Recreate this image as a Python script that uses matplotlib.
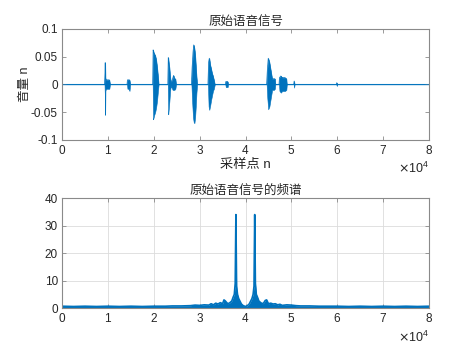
import matplotlib
matplotlib.use("Agg")
import matplotlib.pyplot as plt
from matplotlib.ticker import ScalarFormatter

plt.rcParams["font.family"] = ["Liberation Sans", "Noto Sans CJK SC", "DejaVu Sans"]
plt.rcParams["axes.unicode_minus"] = False

BLUE = "#0072BD"
BOX = "#8a8a8a"
TXT = "#262626"

# speech waveform envelope (sample index, upper, lower)
wave_n = [0, 9250, 9350, 9400, 9450, 9550, 9700, 10000, 10300, 10450,
          14150, 14250, 14500, 14700, 14850,
          19750, 19850, 19950, 20100, 20300, 20500, 20700, 20900, 21050,
          23050, 23150, 23250, 23400, 23550, 23700, 24000, 24100, 24300, 24500, 24700, 24850,
          28200, 28350, 28550, 28700, 28850, 29000, 29150, 29300, 29450,
          31800, 31950, 32100, 32300, 32500, 32700, 32900, 33100, 33300,
          35600, 35700, 36100, 36200,
          44600, 44750, 44950, 45200, 45400, 45600, 45800, 46000, 46200, 46400, 46500,
          47300, 47400, 47700, 48000, 48300, 48600, 48900, 49000,
          50500, 50600, 50700,
          59800, 59900, 60000, 80000]
wave_hi = [0, 0, 0.020, 0.039, 0.012, 0.008, 0.008, 0.008, 0.008, 0,
           0, 0.008, 0.008, 0.008, 0,
           0, 0.062, 0.058, 0.055, 0.052, 0.045, 0.032, 0.015, 0,
           0, 0.048, 0.040, 0.030, 0.015, 0.003, 0.008, 0.010, 0.016, 0.010, 0.010, 0,
           0, 0.030, 0.058, 0.071, 0.065, 0.055, 0.035, 0.015, 0,
           0, 0.040, 0.047, 0.035, 0.028, 0.020, 0.015, 0.008, 0,
           0, 0.005, 0.005, 0,
           0, 0.025, 0.047, 0.040, 0.030, 0.020, 0.010, 0.010, 0.010, 0.010, 0,
           0, 0.012, 0.015, 0.012, 0.012, 0.012, 0.010, 0,
           0, 0.006, 0,
           0, 0.003, 0, 0]
wave_lo = [0, 0, -0.030, -0.055, -0.012, -0.008, -0.008, -0.008, -0.008, 0,
           0, -0.008, -0.008, -0.012, 0,
           0, -0.063, -0.060, -0.055, -0.050, -0.042, -0.030, -0.012, 0,
           0, -0.054, -0.045, -0.030, -0.012, -0.003, -0.008, -0.010, -0.010, -0.010, -0.008, 0,
           0, -0.030, -0.060, -0.068, -0.070, -0.060, -0.040, -0.015, 0,
           0, -0.040, -0.046, -0.038, -0.028, -0.020, -0.012, -0.008, 0,
           0, -0.005, -0.005, 0,
           0, -0.025, -0.045, -0.040, -0.030, -0.020, -0.010, -0.010, -0.010, -0.008, 0,
           0, -0.012, -0.015, -0.012, -0.012, -0.012, -0.010, 0,
           0, -0.006, 0,
           0, -0.003, 0, 0]

# magnitude spectrum band (frequency bin, upper, lower)
spec_f = [0, 2500, 5000, 7500, 10000, 12500, 15000, 17500, 20000, 22500, 24000,
          26000, 28000, 29000, 30000, 31000, 32000, 32500, 33000, 33500, 34000,
          34500, 35000, 35300, 35600, 35900, 36200, 36600, 37000, 37300, 37550,
          37750, 37900, 38050, 38250, 38500, 38800, 39100, 39500, 40000,
          40400, 40800, 41100, 41400, 41650, 41850, 42000, 42150, 42350, 42600,
          42900, 43300, 43700, 44000, 44300, 44600, 45000, 45500, 46000, 46500,
          47000, 47500, 48000, 49000, 50000, 51000, 52000, 54000, 56000, 58000,
          60000, 62500, 65000, 67500, 70000, 72500, 75000, 77500, 80000]
spec_hi = [0.7, 0.6, 0.7, 0.6, 0.7, 0.6, 0.7, 0.6, 0.7, 0.7, 0.8,
           0.8, 0.9, 1.1, 1.0, 1.2, 1.1, 1.6, 1.2, 1.8, 1.5,
           2.0, 1.6, 3.0, 2.6, 2.0, 1.6, 2.0, 2.6, 4.0, 5.0,
           9.0, 34.0, 8.0, 5.0, 3.5, 2.5, 1.5, 0.9, 0.6,
           0.9, 1.5, 2.5, 3.5, 5.0, 8.0, 34.0, 9.0, 5.0, 4.0,
           2.6, 2.0, 1.6, 2.0, 2.8, 3.0, 1.6, 1.8, 1.5, 1.6,
           1.2, 1.4, 1.0, 1.2, 1.1, 0.9, 0.8, 0.8, 0.7, 0.7,
           0.7, 0.6, 0.7, 0.6, 0.7, 0.6, 0.7, 0.6, 0.7]
spec_lo = [0.1] * len(spec_f)

fig = plt.figure(figsize=(4.74, 3.55), dpi=100)
ax1 = fig.add_axes([0.131, 0.606, 0.774, 0.313])
ax2 = fig.add_axes([0.131, 0.132, 0.774, 0.310])

# top: waveform
ax1.fill_between(wave_n, wave_lo, wave_hi, color=BLUE, lw=0.4, edgecolor=BLUE)
ax1.plot(wave_n, wave_hi, color=BLUE, lw=0.5)
ax1.set_xlim(0, 80000)
ax1.set_ylim(-0.1, 0.1)
ax1.set_yticks([-0.1, -0.05, 0, 0.05, 0.1])
ax1.set_yticklabels(["-0.1", "-0.05", "0", "0.05", "0.1"])
ax1.set_title("原始语音信号", fontsize=9, color=TXT, pad=3)
ax1.set_xlabel("采样点 n", fontsize=9.5, color=TXT, labelpad=1)
ax1.set_ylabel("音量 n", fontsize=9, color=TXT, labelpad=0)

# bottom: spectrum
ax2.fill_between(spec_f, spec_lo, spec_hi, color=BLUE, lw=0)
ax2.plot(spec_f, spec_hi, color=BLUE, lw=1.2)
ax2.set_xlim(0, 80000)
ax2.set_ylim(0, 40)
ax2.set_yticks([0, 10, 20, 30, 40])
ax2.set_title("原始语音信号的频谱", fontsize=9, color=TXT, pad=3)
ax2.grid(True, color="#dcdcdc", lw=0.6)
ax2.set_axisbelow(True)

for ax in (ax1, ax2):
    ax.set_xticks([i * 10000 for i in range(9)])
    fmt = ScalarFormatter(useMathText=True)
    fmt.set_powerlimits((4, 4))
    ax.xaxis.set_major_formatter(fmt)
    ax.xaxis.get_offset_text().set_fontsize(9)
    ax.xaxis.get_offset_text().set_color(TXT)
    ax.tick_params(direction="in", length=3, width=0.6, labelsize=8.5,
                   colors=BOX, labelcolor=TXT, top=True, right=True, pad=3)
    for sp in ax.spines.values():
        sp.set_color(BOX)
        sp.set_linewidth(0.8)

fig.savefig("out.png", dpi=100)
